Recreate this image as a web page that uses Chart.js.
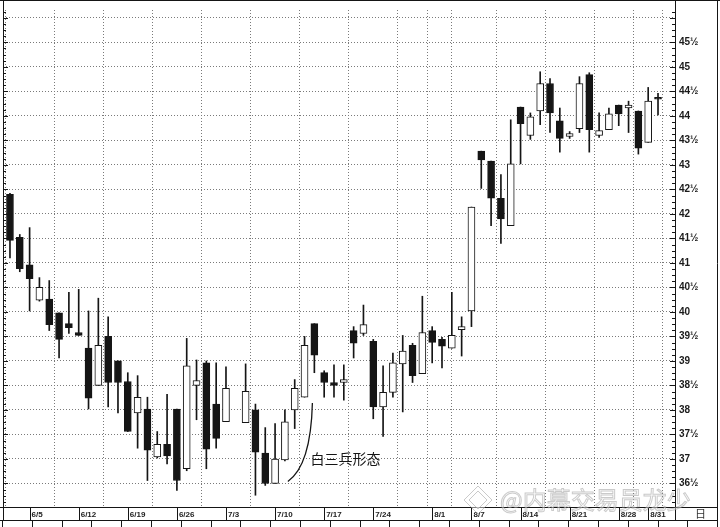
<!DOCTYPE html>
<html>
<head>
<meta charset="utf-8">
<script src="https://cdn.jsdelivr.net/npm/chart.js@4.4.1/dist/chart.umd.min.js"></script>
<style>
  html, body { margin: 0; padding: 0; background: #fff; }
  #wrap { width: 720px; height: 527px; position: relative; }
</style>
</head>
<body>
<div id="wrap"><canvas id="chart"></canvas></div>
<script>
// trading-day slots, 6/1 .. 9/1 (slot 23 = 7/4 holiday, left empty)
const openVals = [42.40, 41.52, 40.96, 40.24, 40.26, 39.98, 39.76, 39.58, 39.26, 38.50, 39.50, 39.00, 38.58, 37.94, 38.02, 37.04, 37.30, 38.02, 36.80, 38.50, 38.96, 38.12, 37.76, null, 37.74, 38.00, 37.12, 36.50, 36.98, 38.00, 38.26, 39.76, 38.76, 38.56, 38.56, 39.62, 39.56, 39.40, 38.06, 38.36, 38.94, 39.32, 38.74, 39.62, 39.44, 39.26, 39.64, 40.02, 43.28, 43.08, 42.32, 41.76, 44.18, 43.60, 44.10, 44.66, 43.90, 43.58, 43.74, 44.84, 43.60, 43.72, 44.22, 44.16, 44.10, 43.46, 44.34];
const highVals = [42.42, 41.58, 41.72, 40.70, 40.64, 39.98, 40.40, 40.46, 40.02, 40.28, 39.90, 39.00, 38.76, 38.70, 38.26, 37.56, 38.32, 38.02, 39.46, 39.02, 39.00, 38.96, 38.88, null, 38.94, 38.12, 37.64, 37.72, 38.00, 38.62, 39.50, 39.76, 38.80, 38.92, 38.92, 39.70, 40.14, 39.44, 38.90, 39.16, 39.52, 39.36, 40.32, 39.70, 39.48, 40.40, 39.90, 42.14, 43.28, 43.08, 42.80, 43.92, 44.18, 44.06, 44.90, 44.76, 44.16, 43.68, 44.80, 44.88, 44.06, 44.16, 44.22, 44.30, 44.10, 44.58, 44.46];
const lowVals = [41.10, 40.82, 40.02, 40.22, 39.62, 39.06, 39.56, 39.52, 38.02, 38.50, 38.06, 37.94, 37.56, 37.22, 36.56, 37.02, 36.90, 36.36, 36.76, 37.80, 36.80, 37.22, 37.76, null, 37.74, 36.26, 36.46, 36.50, 36.96, 37.62, 38.26, 38.76, 38.26, 38.26, 38.20, 39.06, 39.52, 37.82, 37.46, 38.26, 37.96, 38.56, 38.74, 38.96, 38.86, 39.26, 39.10, 39.70, 42.52, 41.76, 41.40, 41.76, 43.02, 43.52, 43.82, 43.66, 43.26, 43.54, 43.66, 43.26, 43.56, 43.72, 43.80, 43.66, 43.22, 43.46, 44.02];
const closeVals = [41.46, 40.88, 40.68, 40.50, 39.74, 39.44, 39.68, 39.52, 38.24, 39.32, 38.56, 38.56, 37.56, 38.26, 37.18, 37.30, 37.06, 36.56, 38.90, 38.60, 37.20, 37.42, 38.44, null, 38.38, 37.14, 36.50, 37.00, 37.76, 38.44, 39.32, 39.12, 38.56, 38.50, 38.62, 39.36, 39.74, 38.06, 38.36, 38.96, 39.20, 38.70, 39.58, 39.38, 39.30, 39.52, 39.70, 42.14, 43.10, 42.32, 41.90, 43.02, 43.84, 43.98, 44.66, 44.06, 43.54, 43.64, 44.66, 43.72, 43.70, 44.04, 44.04, 44.22, 43.34, 44.30, 44.34];

const weekSlots = [2, 7, 12, 17, 22, 27, 32, 37, 42, 43, 47, 52, 57, 62, 65];
const weekLabels = ['6/5', '6/12', '6/19', '6/26', '7/3', '7/10', '7/17', '7/24', '', '8/1', '8/7', '8/14', '8/21', '8/28', '8/31'];
const yTickVals = [36.5, 37, 37.5, 38, 38.5, 39, 39.5, 40, 40.5, 41, 41.5, 42, 42.5, 43, 43.5, 44, 44.5, 45, 45.5, 46];
const yTickLabels = ['36½', '37', '37½', '38', '38½', '39', '39½', '40', '40½', '41', '41½', '42', '42½', '43', '43½', '44', '44½', '45', '45½', ''];

const patternText = '白三兵形态';
const watermark = '@内幕交易员龙少';

const INK = '#151515';
const GRID = '#7a7a7a';

const bodies = [], wicks = [];
openVals.forEach((o, i) => {
  if (o === null) return;
  bodies.push({ x: i, y: [o, closeVals[i]] });
  wicks.push({ x: i, y: [lowVals[i], highVals[i]] });
});
const isUp = ctx => {
  const d = ctx.raw;
  return d && d.y[1] > d.y[0];
};

const framePlugin = {
  id: 'frame',
  afterDraw(chart) {
    const { ctx, chartArea: a, scales } = chart;
    const y = scales.y, x = scales.x;
    ctx.save();
    ctx.strokeStyle = INK;
    ctx.lineWidth = 1;

    // plot frame + label row
    ctx.beginPath();
    ctx.moveTo(0, 0.5); ctx.lineTo(720, 0.5);
    ctx.moveTo(a.left + 0.5, 0); ctx.lineTo(a.left + 0.5, 520);
    ctx.moveTo(a.right + 0.5, 0); ctx.lineTo(a.right + 0.5, 520);
    ctx.moveTo(0, a.bottom + 0.5); ctx.lineTo(718, a.bottom + 0.5);
    ctx.moveTo(0, 520.5); ctx.lineTo(718, 520.5);
    ctx.moveTo(717.5, 0); ctx.lineTo(717.5, 527);
    weekSlots.forEach((s, i) => {
      if (!weekLabels[i]) return;
      const px = Math.round(x.getPixelForValue(s)) + 0.5;
      ctx.moveTo(px, a.bottom); ctx.lineTo(px, 520);
    });
    for (let px = 2; px < 720; px += 29.8) {
      ctx.moveTo(Math.round(px) + 0.5, 521); ctx.lineTo(Math.round(px) + 0.5, 527);
    }
    ctx.stroke();

    // minor ticks on both price axes, every 1/8
    ctx.beginPath();
    for (let v = 36; v <= 46.2; v += 0.125) {
      const py = Math.round(y.getPixelForValue(v)) + 0.5;
      if (py < a.top || py > a.bottom) continue;
      const half = Math.abs(v * 2 - Math.round(v * 2)) < 1e-6;
      const len = half ? 5 : 3;
      ctx.moveTo(a.right - len, py); ctx.lineTo(a.right, py);
      ctx.moveTo(a.left, py); ctx.lineTo(a.left + len, py);
    }
    ctx.stroke();

    ctx.fillStyle = '#333';
    ctx.font = '11px "Noto Sans CJK SC"';
    ctx.textBaseline = 'middle';
    ctx.fillText('日', 695, 514);

    // pattern note
    const x0 = x.getPixelForValue(28.3), y0 = y.getPixelForValue(36.54);
    const x1 = x.getPixelForValue(30.8), y1 = y.getPixelForValue(38.14);
    ctx.beginPath();
    ctx.lineWidth = 1.3;
    ctx.moveTo(x0, y0);
    ctx.quadraticCurveTo(x0 + 23, y0 - 16, x1, y1);
    ctx.stroke();
    ctx.fillStyle = INK;
    ctx.font = '14px "Noto Sans CJK SC"';
    ctx.textBaseline = 'middle';
    ctx.fillText(patternText, x.getPixelForValue(30.6), y.getPixelForValue(37.0));

    // watermark
    ctx.globalAlpha = 0.45;
    ctx.strokeStyle = '#8a8a8a';
    ctx.fillStyle = '#ffffff';
    ctx.lineWidth = 1;
    const cx = 478, cy = 500;
    [14, 9].forEach(r => {
      ctx.beginPath();
      ctx.moveTo(cx, cy - r); ctx.lineTo(cx + r, cy); ctx.lineTo(cx, cy + r); ctx.lineTo(cx - r, cy);
      ctx.closePath();
      ctx.fill(); ctx.stroke();
    });
    ctx.font = '24px "Noto Sans CJK SC"';
    ctx.textBaseline = 'middle';
    ctx.fillText(watermark, 500, 500);
    ctx.strokeText(watermark, 500, 500);
    ctx.restore();
  }
};

new Chart(document.getElementById('chart'), {
  type: 'bar',
  data: {
    datasets: [
      {
        data: bodies,
        barThickness: 7,
        minBarLength: 2,
        grouped: false,
        borderSkipped: false,
        borderWidth: 1,
        borderColor: INK,
        backgroundColor: ctx => isUp(ctx) ? '#ffffff' : INK
      },
      {
        data: wicks,
        barThickness: 1,
        grouped: false,
        borderWidth: 0,
        backgroundColor: INK
      }
    ]
  },
  plugins: [framePlugin],
  options: {
    responsive: true,
    maintainAspectRatio: false,
    animation: false,
    layout: { padding: { left: 3, top: 0, right: 0, bottom: 0 } },
    plugins: { legend: { display: false }, tooltip: { enabled: false } },
    scales: {
      x: {
        type: 'linear',
        min: -0.71,
        max: 67.73,
        offset: false,
        afterBuildTicks: s => { s.ticks = weekSlots.map(v => ({ value: v })); },
        afterFit: s => { s.height = 20; },
        ticks: {
          autoSkip: false,
          maxRotation: 0,
          align: 'start',
          labelOffset: 2,
          padding: 3,
          color: '#222',
          font: { family: 'Liberation Sans', size: 8, weight: 'bold' },
          callback: (v, i) => weekLabels[i]
        },
        grid: { drawTicks: false, color: GRID, lineWidth: 1 },
        border: { display: false, dash: [1, 2] }
      },
      y: {
        position: 'right',
        min: 36.02,
        max: 46.16,
        afterBuildTicks: s => { s.ticks = yTickVals.map(v => ({ value: v })); },
        afterFit: s => { s.width = 45; },
        ticks: {
          padding: 4,
          color: '#1a1a1a',
          font: { family: 'Liberation Sans', size: 10, weight: 'bold' },
          callback: (v, i) => yTickLabels[i]
        },
        grid: { drawTicks: false, color: GRID, lineWidth: 1 },
        border: { display: false, dash: [1, 2] }
      }
    }
  }
});
</script>
</body>
</html>
